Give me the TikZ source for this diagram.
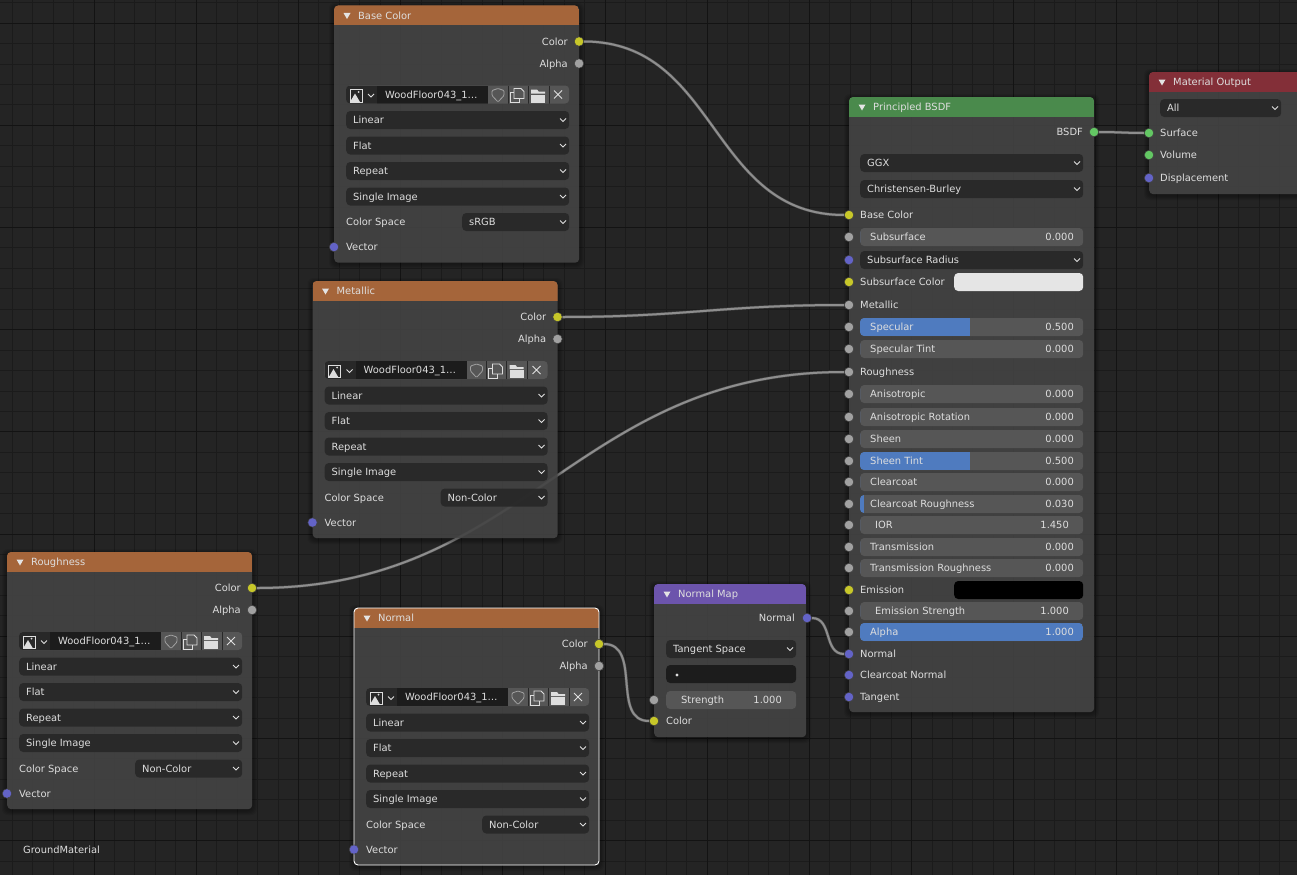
\documentclass[tikz,border=0pt]{standalone}
\usepackage{fontspec}
\setmainfont{DejaVu Sans}
\pgfdeclarelayer{gridlayer}
\pgfdeclarelayer{wirelayer}
\pgfsetlayers{gridlayer,wirelayer,main}
\definecolor{canvas}{HTML}{242424}
\definecolor{gridthin}{HTML}{1B1B1B}
\definecolor{gridthick}{HTML}{131313}
\definecolor{paneldark}{HTML}{464646}
\definecolor{headorange}{HTML}{A5653A}
\definecolor{headgreen}{HTML}{4A8A4C}
\definecolor{headpurple}{HTML}{6C54AC}
\definecolor{headred}{HTML}{832F38}
\definecolor{dropdark}{HTML}{282828}
\definecolor{fielddark}{HTML}{1C1C1C}
\definecolor{slidegray}{HTML}{565656}
\definecolor{barblue}{HTML}{4F7BBF}
\definecolor{labelgray}{HTML}{DEDEDE}
\definecolor{socky}{HTML}{C7C729}
\definecolor{sockg}{HTML}{A1A1A1}
\definecolor{sockb}{HTML}{6363C7}
\definecolor{socks}{HTML}{63C763}
\definecolor{wirelight}{HTML}{8E8E8E}
\tikzset{
  panel/.style={anchor=north west,inner sep=0,rounded corners=4,fill=paneldark,fill opacity=.88},
  txt/.style={anchor=west,inner sep=0,text=labelgray,text height=8.6,text depth=1,font=\fontsize{9.9}{12}\selectfont},
  txtr/.style={txt,anchor=east},
  rowbox/.style={anchor=west,inner sep=0,minimum height=18,rounded corners=4},
  dropbox/.style={rowbox,fill=dropdark,fill opacity=.92},
  slidebox/.style={rowbox,fill=slidegray},
  fieldbox/.style={rowbox,fill=fielddark},
  chev/.style={draw=labelgray,line width=.8},
  sockbase/.style={circle,inner sep=0,minimum size=9.4,draw=black!75,line width=.5},
  sockcolor/.style={sockbase,fill=socky},
  sockvalue/.style={sockbase,fill=sockg},
  sockvector/.style={sockbase,fill=sockb},
  sockshader/.style={sockbase,fill=socks},
  wire/.style={draw=black!70,line width=.5,double=wirelight,double distance=2,out=0,in=180,looseness=1.1},
}
% name, width, height, colour, title
\newcommand{\nodebox}[5]{
  \foreach \s in {1,...,5}
    \fill[black,opacity=.07,rounded corners=6] (-\s,-\s+2) rectangle (#2+\s,#3+\s+1);
  \node[panel,minimum width=#2,minimum height=#3] (#1) at (0,0) {};
  \begin{scope}
    \clip[rounded corners=4] (0,0) rectangle (#2,28);
    \fill[#4] (0,0) rectangle (#2,20);
  \end{scope}
  \fill[labelgray!80] (9.5,7.5) -- (16.5,7.5) -- (13,13.5) -- cycle;
  \node[txt] (#1title) at (24,10) {#5};
}
% name, x, y, width, text
\newcommand{\droprow}[5]{
  \node[dropbox,minimum width=#4] (#1) at (#2,#3) {};
  \node[txt] (#1t) at (#2+7,#3) {#5};
  \draw[chev] (#2+#4-9,#3-1.5) -- ++(3,3) -- ++(3,-3);
}
% name, y, blue part, label, value, indent
\newcommand{\sliderrow}[6]{
  \node[slidebox,minimum width=223] (#1) at (860,#2) {};
  \begin{scope}
    \clip[rounded corners=4] (860,#2-9) rectangle (1083,#2+9);
    \fill[barblue] (860,#2-9) rectangle (860+#3,#2+9);
  \end{scope}
  \node[txt] (#1t) at (860+#6,#2) {#4};
  \node[txtr] (#1v) at (1084-#6,#2) {#5};
  \node[sockvalue] (#1s) at (849,#2) {};
}
% name, x, y, title, colour space
\newcommand{\imgnode}[5]{
  \begin{scope}[shift={(#2,#3)}]
    \nodebox{#1}{245}{257}{headorange}{#4}
    \node[txtr] (#1colort) at (234,36) {Color};
    \node[txtr] (#1alphat) at (234,58) {Alpha};
    \node[rowbox,fill=slidegray,minimum width=223] (#1bar) at (12,89) {};
    \begin{scope}
      \clip[rounded corners=4] (12,80) rectangle (235,98);
      \fill[dropdark] (12,80) rectangle (43,98);
      \fill[fielddark] (43,80) rectangle (154,98);
      \foreach \x in {174,194,215} \draw[dropdark] (\x,80) -- (\x,98);
    \end{scope}
    \draw[labelgray,line width=.7] (16,84) rectangle (28,96.5);
    \fill[labelgray] (16,96.5) -- (21,88) -- (26,96.5) -- cycle;
    \fill[labelgray] (24.5,86.5) circle (1);
    \draw[chev] (34,88.5) -- ++(3,3) -- ++(3,-3);
    \node[txt] (#1file) at (51,89) {WoodFloor043\_1…};
    \draw[sockg,line width=.8,rounded corners=1] (158,85) -- (164,83) -- (170,85) -- (170,90) -- (164,96.5) -- (158,90) -- cycle;
    \draw[labelgray,line width=.8] (180,87) -- (176,87) -- (176,97) -- (185,97) -- (185,93);
    \draw[labelgray,line width=.8] (180,93) -- (180,83) -- (187,83) -- (190,86) -- (190,93) -- cycle;
    \fill[labelgray] (197,84) -- (203,84) -- (204.5,86) -- (211,86) -- (211,88) -- (197,88) -- cycle;
    \fill[labelgray] (197,89) rectangle (211,97);
    \draw[labelgray,line width=.8] (220,85) -- (228,93) (228,85) -- (220,93);
    \droprow{#1interp}{12}{114.5}{223}{Linear}
    \droprow{#1proj}{12}{140}{223}{Flat}
    \droprow{#1ext}{12}{165.5}{223}{Repeat}
    \droprow{#1src}{12}{191}{223}{Single Image}
    \node[txt] (#1spacet) at (12,216.5) {Color Space};
    \droprow{#1space}{128}{216.5}{107}{#5}
    \node[txt] (#1vect) at (12,241.5) {Vector};
    \node[sockcolor] (#1color) at (245,36) {};
    \node[sockvalue] (#1alpha) at (245,58) {};
    \node[sockvector] (#1vec) at (0,241.5) {};
  \end{scope}
}
\begin{document}
\begin{tikzpicture}[x=1pt,y=-1pt]
  \clip (0,0) rectangle (1297,875);
  \begin{pgfonlayer}{gridlayer}
    \fill[canvas] (0,0) rectangle (1297,875);
    \foreach \k in {0,...,63} \draw[gridthin] ({12+20.44*\k},0) -- ({12+20.44*\k},875);
    \foreach \k in {0,...,42} \draw[gridthin] (0,{2.4+20.44*\k}) -- (1297,{2.4+20.44*\k});
    \foreach \k in {0,...,12} \draw[gridthick] ({93.8+102.2*\k},0) -- ({93.8+102.2*\k},875);
    \foreach \k in {0,...,8} \draw[gridthick] (0,{22.8+102.2*\k}) -- (1297,{22.8+102.2*\k});
  \end{pgfonlayer}

  \imgnode{base}{334}{5.5}{Base Color}{sRGB}
  \imgnode{metal}{312.5}{281}{Metallic}{Non-Color}
  \imgnode{rough}{7}{552}{Roughness}{Non-Color}
  \imgnode{norm}{354}{608}{Normal}{Non-Color}
  \draw[white,line width=.9,rounded corners=4] (354,608) rectangle (599,865);
  \node[sockcolor] (normcolor) at (599,644) {};
  \node[sockvalue] (normalpha) at (599,666) {};
  \node[sockvector] (normvec) at (354,849.5) {};

  % normal map
  \begin{scope}[shift={(654,584)}]
    \nodebox{nmap}{152}{153}{headpurple}{Normal Map}
  \end{scope}
  \node[txtr] (nmapoutt) at (795,618) {Normal};
  \droprow{nmapspace}{666}{649}{130}{Tangent Space}
  \node[fieldbox,minimum width=130] (nmapuv) at (666,674) {};
  \fill[labelgray] (677,675) circle (1.6);
  \node[slidebox,minimum width=130] (nmapstr) at (666,700) {};
  \node[txt] (nmapstrt) at (681,700) {Strength};
  \node[txtr] (nmapstrv) at (782,700) {1.000};
  \node[txt] (nmapcolt) at (666,721) {Color};
  \node[sockvector] (nmapout) at (807,618) {};
  \node[sockvalue] (nmapstrs) at (654,700) {};
  \node[sockcolor] (nmapcol) at (654,721) {};

  % principled
  \begin{scope}[shift={(849,97)}]
    \nodebox{bsdf}{245}{615}{headgreen}{Principled BSDF}
  \end{scope}
  \node[txtr] (bsdfoutt) at (1083,132) {BSDF};
  \droprow{bsdfdist}{860}{163}{223}{GGX}
  \droprow{bsdfsss}{860}{189}{223}{Christensen-Burley}
  \foreach \n/\y/\f/\t/\v/\i in {
      subs/237/0/Subsurface/0.000/10,
      spec/327/110/Specular/0.500/10,
      spectint/349/0/Specular Tint/0.000/10,
      aniso/394/0/Anisotropic/0.000/10,
      anisorot/417/0/Anisotropic Rotation/0.000/10,
      sheen/439/0/Sheen/0.000/10,
      sheentint/461/110/Sheen Tint/0.500/10,
      coat/482/0/Clearcoat/0.000/10,
      coatrough/504/4/Clearcoat Roughness/0.030/10,
      ior/525/0/IOR/1.450/15,
      trans/547/0/Transmission/0.000/10,
      transrough/568/0/Transmission Roughness/0.000/10,
      emitstr/611/0/Emission Strength/1.000/15,
      alpha/632/223/Alpha/1.000/10}
    {\sliderrow{\n}{\y}{\f}{\t}{\v}{\i}}
  \droprow{subsrad}{860}{260}{223}{Subsurface Radius}
  \node[rowbox,fill=white!90!black,minimum width=129] (subscolbox) at (954,282) {};
  \node[rowbox,fill=black,minimum width=129] (emitbox) at (954,590) {};
  \foreach \n/\y/\t in {bsdfbase/215/Base Color,subscol/282/Subsurface Color,bsdfmetal/305/Metallic,bsdfrough/372/Roughness,emit/590/Emission,bsdfnorm/654/Normal,coatnorm/675/Clearcoat Normal,tangent/697/Tangent}
    {\node[txt] (\n t) at (860,\y) {\t};}
  \node[sockshader] (bsdfout) at (1094,132) {};
  \node[sockcolor] (bsdfbase) at (849,215) {};
  \node[sockvector] (subsrads) at (849,260) {};
  \node[sockcolor] (subscol) at (849,282) {};
  \node[sockvalue] (bsdfmetal) at (849,305) {};
  \node[sockvalue] (bsdfrough) at (849,372) {};
  \node[sockcolor] (emit) at (849,590) {};
  \node[sockvector] (bsdfnorm) at (849,654) {};
  \node[sockvector] (coatnorm) at (849,675) {};
  \node[sockvector] (tangent) at (849,697) {};

  % output
  \begin{scope}[shift={(1149,72)}]
    \nodebox{mat}{170}{122}{headred}{Material Output}
  \end{scope}
  \droprow{mattarget}{1160}{108}{121}{All}
  \foreach \n/\y/\t in {matsurf/133/Surface,matvol/155/Volume,matdisp/178/Displacement}
    {\node[txt] (\n t) at (1160,\y) {\t};}
  \node[sockshader] (matsurf) at (1149,133) {};
  \node[sockshader] (matvol) at (1149,155) {};
  \node[sockvector] (matdisp) at (1149,178) {};

  \node[txt] (caption) at (23,850) {GroundMaterial};

  \begin{pgfonlayer}{wirelayer}
    \foreach \a/\b in {basecolor/bsdfbase,metalcolor/bsdfmetal,roughcolor/bsdfrough,normcolor/nmapcol,nmapout/bsdfnorm,bsdfout/matsurf}
      {\draw[wire] (\a) to (\b);}
  \end{pgfonlayer}
\end{tikzpicture}
\end{document}
